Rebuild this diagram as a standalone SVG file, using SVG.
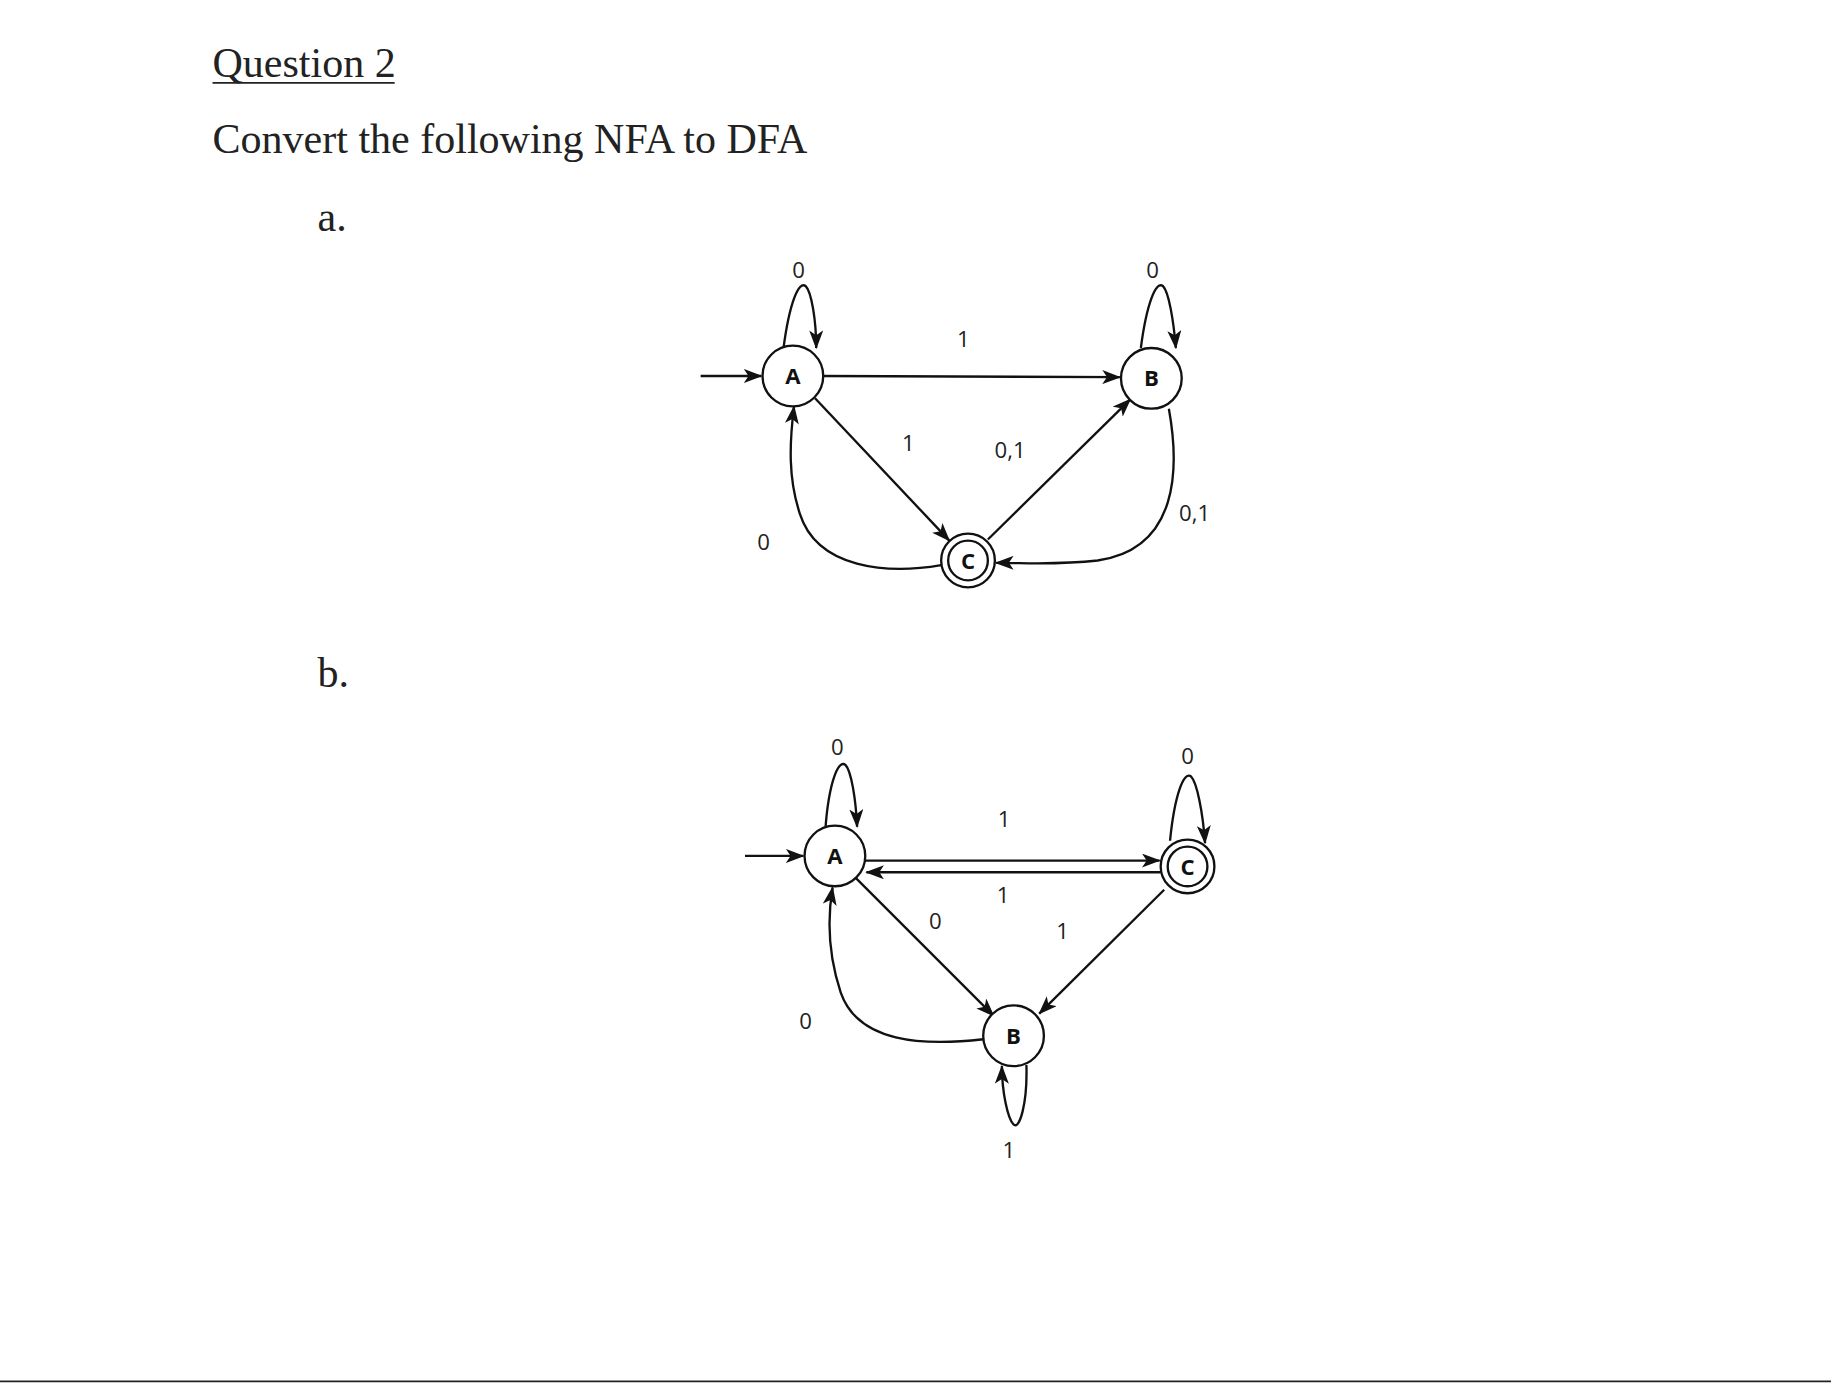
<svg xmlns="http://www.w3.org/2000/svg" width="1831" height="1384" viewBox="0 0 1831 1384">
<style>
.t{font-family:"Liberation Serif",serif;font-size:36px;fill:#222}
.n{fill:#fff;stroke:#111;stroke-width:2}
.nl{font-family:"Open Sans","DejaVu Sans",sans-serif;font-weight:bold;font-size:19px;text-anchor:middle;fill:#111}
.el{font-family:"Open Sans","DejaVu Sans",sans-serif;font-size:19px;text-anchor:middle;fill:#222}
.e{fill:none;stroke:#111;stroke-width:2;marker-end:url(#ah)}
</style>
<defs><marker id="ah" viewBox="0 0 16 12" refX="15" refY="6" markerWidth="16" markerHeight="12" orient="auto" markerUnits="userSpaceOnUse"><path d="M0,0 L16,6 L0,12 L4,6 z" fill="#111"/></marker></defs>
<rect width="1831" height="1384" fill="#fff"/>
<g transform="scale(1.1677)">
<text class="t" x="182" y="66">Question 2</text>
<line x1="182" y1="71" x2="338" y2="71" stroke="#222" stroke-width="1.5"/>
<text class="t" x="182" y="131">Convert the following NFA to DFA</text>
<text class="t" x="272" y="198">a.</text>
<text class="t" x="272" y="588">b.</text>
<line x1="0" y1="1183" x2="1568" y2="1183" stroke="#222" stroke-width="1.5"/>
<g id="connectors">
<path class="e" d="M600,322 L652,322"/>
<path class="e" d="M705,322 L959,323"/>
<path class="e" d="M698,341 L813,463"/>
<path class="e" d="M846,462 L968,342"/>
<path class="e" d="M671,298 C676,260 684,240 690,245 C695,250 699,275 699,298"/>
<path class="e" d="M977,298 C982,260 990,240 996,245 C1001,250 1005,275 1007,298"/>
<path class="e" d="M1001,350 C1010,400 1010,470 940,480 C905,484 880,482 853,482"/>
<path class="e" d="M806,484 C760,492 700,487 685,440 C675,410 676,380 680,348"/>
<path class="e" d="M638,733 L688,733"/>
<path class="e" d="M741,737 L993,737"/>
<path class="e" d="M994,747 L742,747"/>
<path class="e" d="M733,752 L851,870"/>
<path class="e" d="M997,762 L890,868"/>
<path class="e" d="M707,708 C710,670 718,650 724,655 C729,660 733,685 734,708"/>
<path class="e" d="M1002,720 C1006,680 1014,660 1020,665 C1025,670 1030,695 1032,722"/>
<path class="e" d="M879,912 C880,945 873,968 868,963 C863,958 858,935 858,913"/>
<path class="e" d="M842,890 C790,896 735,893 720,850 C710,820 708,790 713,760"/>
</g>
<g class="el">
<text x="684" y="238">0</text><text x="825" y="297">1</text><text x="778" y="386">1</text><text x="865" y="392">0,1</text>
<text x="987" y="238">0</text><text x="1023" y="446">0,1</text><text x="654" y="471">0</text>
<text x="717" y="647">0</text><text x="860" y="708">1</text><text x="859" y="773">1</text><text x="801" y="796">0</text>
<text x="910" y="804">1</text><text x="1017" y="654">0</text><text x="690" y="881">0</text><text x="864" y="992">1</text>
</g>
<g id="a_A"><circle class="n" cx="679" cy="322" r="26"/><text class="nl" x="679" y="329">A</text></g>
<g id="a_B"><circle class="n" cx="986" cy="324" r="26"/><text class="nl" x="986" y="331">B</text></g>
<g id="a_C"><circle class="n" cx="829" cy="480" r="23"/><circle class="n" cx="829" cy="480" r="17"/><text class="nl" x="829" y="487">C</text></g>
<g id="b_A"><circle class="n" cx="715" cy="733" r="26"/><text class="nl" x="715" y="740">A</text></g>
<g id="b_C"><circle class="n" cx="1017" cy="742" r="23"/><circle class="n" cx="1017" cy="742" r="17"/><text class="nl" x="1017" y="749">C</text></g>
<g id="b_B"><circle class="n" cx="868" cy="887" r="26"/><text class="nl" x="868" y="894">B</text></g>
</g>
</svg>
